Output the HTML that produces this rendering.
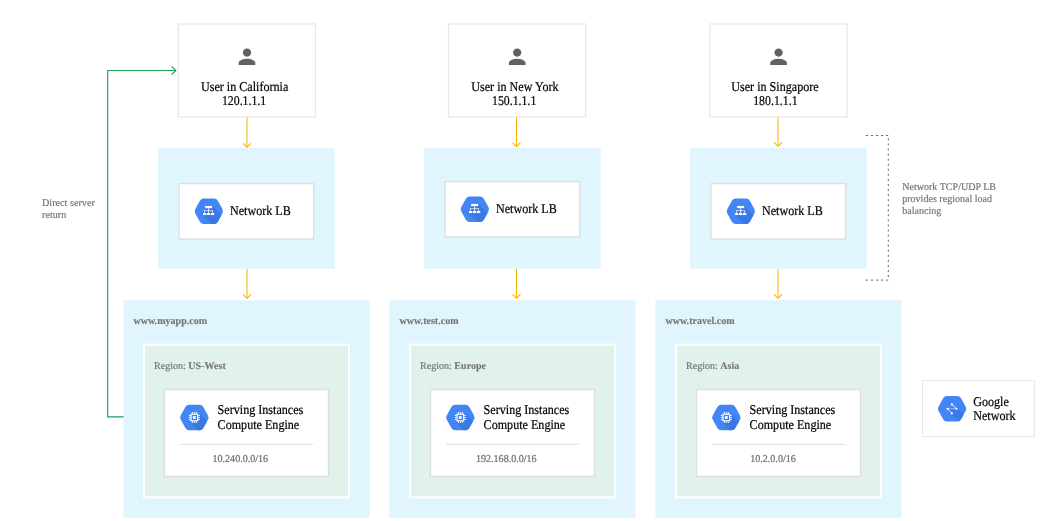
<!DOCTYPE html>
<html lang="en">
<head>
<meta charset="utf-8">
<title>Network Load Balancing</title>
<style>
html,body{margin:0;padding:0;background:#fff;}
body{width:1064px;height:521px;overflow:hidden;}
svg{display:block;will-change:transform;}
</style>
</head>
<body>
<svg width="1064" height="521" viewBox="0 0 1064 521" font-family="'Liberation Serif', 'Times New Roman', serif" text-rendering="geometricPrecision">
<rect x="0" y="0" width="1064" height="521" fill="#fff" />
<rect x="178.3" y="24" width="137.2" height="93" fill="#fff" stroke="#e9e9e9" stroke-width="1.3" />
<path transform="translate(234.52,44.22) scale(1.04)" fill="#616161" d="M12 12c2.21 0 4-1.79 4-4s-1.790-4-4-4-4 1.790-4 4 1.790 4 4 4zm0 2c-2.670 0-8 1.340-8 4v2h16v-2c0-2.660-5.330-4-8-4z"/>
<text transform="translate(201.0,91.0) scale(1.008,1.12)" font-size="12" fill="#000000" stroke="#000000" stroke-width="0.18" text-anchor="start">User in California</text>
<text transform="translate(221.89999999999998,105.0) scale(0.986,1.12)" font-size="12" fill="#000000" stroke="#000000" stroke-width="0.18" text-anchor="start">120.1.1.1</text>
<path d="M247.0 117.5 V147.29999999999998" stroke="#F4B400" stroke-width="1" fill="none"/>
<path d="M243.1 143.29999999999998 L247.0 147.2 L250.9 143.29999999999998" stroke="#F4B400" stroke-width="1.1" fill="none" stroke-linejoin="miter"/>
<rect x="448.5" y="24" width="137.2" height="93" fill="#fff" stroke="#e9e9e9" stroke-width="1.3" />
<path transform="translate(504.72,44.22) scale(1.04)" fill="#616161" d="M12 12c2.21 0 4-1.79 4-4s-1.790-4-4-4-4 1.790-4 4 1.790 4 4 4zm0 2c-2.670 0-8 1.340-8 4v2h16v-2c0-2.660-5.330-4-8-4z"/>
<text transform="translate(471.3,91.0) scale(1.008,1.12)" font-size="12" fill="#000000" stroke="#000000" stroke-width="0.18" text-anchor="start">User in New York</text>
<text transform="translate(492.0,105.0) scale(0.986,1.12)" font-size="12" fill="#000000" stroke="#000000" stroke-width="0.18" text-anchor="start">150.1.1.1</text>
<path d="M516.5 117.5 V146.7" stroke="#F4B400" stroke-width="1" fill="none"/>
<path d="M512.6 142.7 L516.5 146.6 L520.4 142.7" stroke="#F4B400" stroke-width="1.1" fill="none" stroke-linejoin="miter"/>
<rect x="709.9" y="24" width="137.2" height="93" fill="#fff" stroke="#e9e9e9" stroke-width="1.3" />
<path transform="translate(766.12,44.22) scale(1.04)" fill="#616161" d="M12 12c2.21 0 4-1.79 4-4s-1.790-4-4-4-4 1.790-4 4 1.790 4 4 4zm0 2c-2.670 0-8 1.340-8 4v2h16v-2c0-2.660-5.330-4-8-4z"/>
<text transform="translate(731.3,91.0) scale(1.008,1.12)" font-size="12" fill="#000000" stroke="#000000" stroke-width="0.18" text-anchor="start">User in Singapore</text>
<text transform="translate(753.2,105.0) scale(0.986,1.12)" font-size="12" fill="#000000" stroke="#000000" stroke-width="0.18" text-anchor="start">180.1.1.1</text>
<path d="M778.0 117.5 V146.39999999999998" stroke="#F4B400" stroke-width="1" fill="none"/>
<path d="M774.1 142.39999999999998 L778.0 146.29999999999998 L781.9 142.39999999999998" stroke="#F4B400" stroke-width="1.1" fill="none" stroke-linejoin="miter"/>
<rect x="158" y="147.7" width="176.8" height="121.1" fill="#E1F5FE" />
<rect x="179.5" y="184.6" width="134.6" height="55.3" fill="#000" opacity="0.04"/>
<rect x="179.0" y="183.6" width="134.6" height="55.3" fill="#fff" stroke="#dedede" stroke-width="1.3" />
<g>
<clipPath id="hx1"><path d="M195.31 213.42 Q194.05 211.15 195.31 208.88 L199.89 200.67 Q201.15 198.40 203.75 198.40 L213.95 198.40 Q216.55 198.40 217.81 200.67 L222.39 208.88 Q223.65 211.15 222.39 213.42 L217.81 221.63 Q216.55 223.90 213.95 223.90 L203.75 223.90 Q201.15 223.90 199.89 221.63 Z"/></clipPath>
<path d="M195.31 213.42 Q194.05 211.15 195.31 208.88 L199.89 200.67 Q201.15 198.40 203.75 198.40 L213.95 198.40 Q216.55 198.40 217.81 200.67 L222.39 208.88 Q223.65 211.15 222.39 213.42 L217.81 221.63 Q216.55 223.90 213.95 223.90 L203.75 223.90 Q201.15 223.90 199.89 221.63 Z" fill="#4285F4"/>
<g clip-path="url(#hx1)"><g transform="translate(208.85,211.15)">
<path d="M-3.5 -5.2 L3.4 -5.2 L20 11.4 L20 20 L9.6 20 L-5.8 4.2 L-5.8 1.8 L-3.5 -0.5 Z" fill="#3B78E7"/>
</g></g>
<g transform="translate(208.85,211.15)">
<g fill="#fff"><rect x="-3.7" y="-5.2" width="7.0" height="2.2"/><rect x="-0.65" y="-3" width="0.9" height="5.2" opacity="0.9"/><rect x="-4.6" y="-0.9" width="8.8" height="0.8" opacity="0.75"/><rect x="-4.6" y="-0.9" width="0.8" height="3" opacity="0.8"/><rect x="3.4" y="-0.9" width="0.8" height="3" opacity="0.8"/><rect x="-5.8" y="1.9" width="3.3" height="2.0"/><rect x="-1.85" y="1.9" width="3.3" height="2.0"/><rect x="2.1" y="1.9" width="3.3" height="2.0"/></g>
</g>
</g>
<text transform="translate(230,214.9) scale(1.008,1.12)" font-size="12" fill="#000000" stroke="#000000" stroke-width="0.18" text-anchor="start">Network LB</text>
<rect x="424" y="147.7" width="176.8" height="121.1" fill="#E1F5FE" />
<rect x="445.5" y="182.6" width="134.6" height="55.3" fill="#000" opacity="0.04"/>
<rect x="445.0" y="181.6" width="134.6" height="55.3" fill="#fff" stroke="#dedede" stroke-width="1.3" />
<g>
<clipPath id="hx2"><path d="M461.31 211.42 Q460.05 209.15 461.31 206.88 L465.89 198.67 Q467.15 196.40 469.75 196.40 L479.95 196.40 Q482.55 196.40 483.81 198.67 L488.39 206.88 Q489.65 209.15 488.39 211.42 L483.81 219.63 Q482.55 221.90 479.95 221.90 L469.75 221.90 Q467.15 221.90 465.89 219.63 Z"/></clipPath>
<path d="M461.31 211.42 Q460.05 209.15 461.31 206.88 L465.89 198.67 Q467.15 196.40 469.75 196.40 L479.95 196.40 Q482.55 196.40 483.81 198.67 L488.39 206.88 Q489.65 209.15 488.39 211.42 L483.81 219.63 Q482.55 221.90 479.95 221.90 L469.75 221.90 Q467.15 221.90 465.89 219.63 Z" fill="#4285F4"/>
<g clip-path="url(#hx2)"><g transform="translate(474.85,209.15)">
<path d="M-3.5 -5.2 L3.4 -5.2 L20 11.4 L20 20 L9.6 20 L-5.8 4.2 L-5.8 1.8 L-3.5 -0.5 Z" fill="#3B78E7"/>
</g></g>
<g transform="translate(474.85,209.15)">
<g fill="#fff"><rect x="-3.7" y="-5.2" width="7.0" height="2.2"/><rect x="-0.65" y="-3" width="0.9" height="5.2" opacity="0.9"/><rect x="-4.6" y="-0.9" width="8.8" height="0.8" opacity="0.75"/><rect x="-4.6" y="-0.9" width="0.8" height="3" opacity="0.8"/><rect x="3.4" y="-0.9" width="0.8" height="3" opacity="0.8"/><rect x="-5.8" y="1.9" width="3.3" height="2.0"/><rect x="-1.85" y="1.9" width="3.3" height="2.0"/><rect x="2.1" y="1.9" width="3.3" height="2.0"/></g>
</g>
</g>
<text transform="translate(496,212.9) scale(1.008,1.12)" font-size="12" fill="#000000" stroke="#000000" stroke-width="0.18" text-anchor="start">Network LB</text>
<rect x="690" y="147.7" width="176.8" height="121.1" fill="#E1F5FE" />
<rect x="711.5" y="184.6" width="134.6" height="55.3" fill="#000" opacity="0.04"/>
<rect x="711.0" y="183.6" width="134.6" height="55.3" fill="#fff" stroke="#dedede" stroke-width="1.3" />
<g>
<clipPath id="hx3"><path d="M727.31 213.42 Q726.05 211.15 727.31 208.88 L731.89 200.67 Q733.15 198.40 735.75 198.40 L745.95 198.40 Q748.55 198.40 749.81 200.67 L754.39 208.88 Q755.65 211.15 754.39 213.42 L749.81 221.63 Q748.55 223.90 745.95 223.90 L735.75 223.90 Q733.15 223.90 731.89 221.63 Z"/></clipPath>
<path d="M727.31 213.42 Q726.05 211.15 727.31 208.88 L731.89 200.67 Q733.15 198.40 735.75 198.40 L745.95 198.40 Q748.55 198.40 749.81 200.67 L754.39 208.88 Q755.65 211.15 754.39 213.42 L749.81 221.63 Q748.55 223.90 745.95 223.90 L735.75 223.90 Q733.15 223.90 731.89 221.63 Z" fill="#4285F4"/>
<g clip-path="url(#hx3)"><g transform="translate(740.85,211.15)">
<path d="M-3.5 -5.2 L3.4 -5.2 L20 11.4 L20 20 L9.6 20 L-5.8 4.2 L-5.8 1.8 L-3.5 -0.5 Z" fill="#3B78E7"/>
</g></g>
<g transform="translate(740.85,211.15)">
<g fill="#fff"><rect x="-3.7" y="-5.2" width="7.0" height="2.2"/><rect x="-0.65" y="-3" width="0.9" height="5.2" opacity="0.9"/><rect x="-4.6" y="-0.9" width="8.8" height="0.8" opacity="0.75"/><rect x="-4.6" y="-0.9" width="0.8" height="3" opacity="0.8"/><rect x="3.4" y="-0.9" width="0.8" height="3" opacity="0.8"/><rect x="-5.8" y="1.9" width="3.3" height="2.0"/><rect x="-1.85" y="1.9" width="3.3" height="2.0"/><rect x="2.1" y="1.9" width="3.3" height="2.0"/></g>
</g>
</g>
<text transform="translate(762,214.9) scale(1.008,1.12)" font-size="12" fill="#000000" stroke="#000000" stroke-width="0.18" text-anchor="start">Network LB</text>
<path d="M247.0 268.8 V298.4" stroke="#F4B400" stroke-width="1" fill="none"/>
<path d="M243.1 294.4 L247.0 298.3 L250.9 294.4" stroke="#F4B400" stroke-width="1.1" fill="none" stroke-linejoin="miter"/>
<path d="M516.5 268.8 V298.4" stroke="#F4B400" stroke-width="1" fill="none"/>
<path d="M512.6 294.4 L516.5 298.3 L520.4 294.4" stroke="#F4B400" stroke-width="1.1" fill="none" stroke-linejoin="miter"/>
<path d="M778.0 268.8 V298.4" stroke="#F4B400" stroke-width="1" fill="none"/>
<path d="M774.1 294.4 L778.0 298.3 L781.9 294.4" stroke="#F4B400" stroke-width="1.1" fill="none" stroke-linejoin="miter"/>
<rect x="123.4" y="300.2" width="246.2" height="217.5" fill="#E1F5FE" />
<text transform="translate(133.4,324) scale(1.005,1.02)" font-size="10" fill="#757575" stroke="#757575" stroke-width="0.15" text-anchor="start" font-weight="bold">www.myapp.com</text>
<rect x="144" y="344.6" width="205" height="152.7" fill="#E0F2E9" stroke="#fff" stroke-width="2" />
<text transform="translate(154,368.8) scale(1.005,1.02)" font-size="10" fill="#757575"><tspan stroke="#757575" stroke-width="0.18">Region:</tspan> <tspan font-weight="bold" stroke="#757575" stroke-width="0.1">US-West</tspan></text>
<rect x="165.0" y="390.5" width="164" height="86.8" fill="#000" opacity="0.04"/>
<rect x="164.5" y="389.5" width="164" height="86.8" fill="#fff" stroke="#dedede" stroke-width="1.3" />
<g>
<clipPath id="hx4"><path d="M180.81 419.77 Q179.55 417.50 180.81 415.23 L185.39 407.02 Q186.65 404.75 189.25 404.75 L199.45 404.75 Q202.05 404.75 203.31 407.02 L207.89 415.23 Q209.15 417.50 207.89 419.77 L203.31 427.98 Q202.05 430.25 199.45 430.25 L189.25 430.25 Q186.65 430.25 185.39 427.98 Z"/></clipPath>
<path d="M180.81 419.77 Q179.55 417.50 180.81 415.23 L185.39 407.02 Q186.65 404.75 189.25 404.75 L199.45 404.75 Q202.05 404.75 203.31 407.02 L207.89 415.23 Q209.15 417.50 207.89 419.77 L203.31 427.98 Q202.05 430.25 199.45 430.25 L189.25 430.25 Q186.65 430.25 185.39 427.98 Z" fill="#4285F4"/>
<g clip-path="url(#hx4)"><g transform="translate(194.35,417.5)">
<path d="M4.5 -4.5 L20 11 L20 20 L10 20 L-4.5 4.5 Z" fill="#3B78E7"/>
</g></g>
<g transform="translate(194.35,417.5)">
<g fill="none" stroke="#fff"><rect x="-3.3" y="-3.3" width="6.6" height="6.6" stroke-width="1.2"/><path d="M-2 -5.5v1.6M0 -5.5v1.6M2 -5.5v1.6M-2 3.9v1.6M0 3.9v1.6M2 3.9v1.6M-5.5 -2h1.6M-5.5 0h1.6M-5.5 2h1.6M3.9 -2h1.6M3.9 0h1.6M3.9 2h1.6" stroke-width="1"/></g><rect x="-1.4" y="-1.4" width="2.8" height="2.8" fill="#fff"/>
</g>
</g>
<text transform="translate(217.6,413.8) scale(1.008,1.12)" font-size="12" fill="#000000" stroke="#000000" stroke-width="0.18" text-anchor="start">Serving Instances</text>
<text transform="translate(217.6,428.8) scale(1.008,1.12)" font-size="12" fill="#000000" stroke="#000000" stroke-width="0.18" text-anchor="start">Compute Engine</text>
<path d="M180 444.4 H313" stroke="#e0e0e0" stroke-width="1"/>
<text transform="translate(240.3,461.7) scale(1.005,1.06)" font-size="10" fill="#6e6e6e" stroke="#6e6e6e" stroke-width="0.22" text-anchor="middle">10.240.0.0/16</text>
<rect x="389.4" y="300.2" width="246.2" height="217.5" fill="#E1F5FE" />
<text transform="translate(399.4,324) scale(1.005,1.02)" font-size="10" fill="#757575" stroke="#757575" stroke-width="0.15" text-anchor="start" font-weight="bold">www.test.com</text>
<rect x="410" y="344.6" width="205" height="152.7" fill="#E0F2E9" stroke="#fff" stroke-width="2" />
<text transform="translate(420,368.8) scale(1.005,1.02)" font-size="10" fill="#757575"><tspan stroke="#757575" stroke-width="0.18">Region:</tspan> <tspan font-weight="bold" stroke="#757575" stroke-width="0.1">Europe</tspan></text>
<rect x="431.0" y="390.5" width="164" height="86.8" fill="#000" opacity="0.04"/>
<rect x="430.5" y="389.5" width="164" height="86.8" fill="#fff" stroke="#dedede" stroke-width="1.3" />
<g>
<clipPath id="hx5"><path d="M446.81 419.77 Q445.55 417.50 446.81 415.23 L451.39 407.02 Q452.65 404.75 455.25 404.75 L465.45 404.75 Q468.05 404.75 469.31 407.02 L473.89 415.23 Q475.15 417.50 473.89 419.77 L469.31 427.98 Q468.05 430.25 465.45 430.25 L455.25 430.25 Q452.65 430.25 451.39 427.98 Z"/></clipPath>
<path d="M446.81 419.77 Q445.55 417.50 446.81 415.23 L451.39 407.02 Q452.65 404.75 455.25 404.75 L465.45 404.75 Q468.05 404.75 469.31 407.02 L473.89 415.23 Q475.15 417.50 473.89 419.77 L469.31 427.98 Q468.05 430.25 465.45 430.25 L455.25 430.25 Q452.65 430.25 451.39 427.98 Z" fill="#4285F4"/>
<g clip-path="url(#hx5)"><g transform="translate(460.35,417.5)">
<path d="M4.5 -4.5 L20 11 L20 20 L10 20 L-4.5 4.5 Z" fill="#3B78E7"/>
</g></g>
<g transform="translate(460.35,417.5)">
<g fill="none" stroke="#fff"><rect x="-3.3" y="-3.3" width="6.6" height="6.6" stroke-width="1.2"/><path d="M-2 -5.5v1.6M0 -5.5v1.6M2 -5.5v1.6M-2 3.9v1.6M0 3.9v1.6M2 3.9v1.6M-5.5 -2h1.6M-5.5 0h1.6M-5.5 2h1.6M3.9 -2h1.6M3.9 0h1.6M3.9 2h1.6" stroke-width="1"/></g><rect x="-1.4" y="-1.4" width="2.8" height="2.8" fill="#fff"/>
</g>
</g>
<text transform="translate(483.6,413.8) scale(1.008,1.12)" font-size="12" fill="#000000" stroke="#000000" stroke-width="0.18" text-anchor="start">Serving Instances</text>
<text transform="translate(483.6,428.8) scale(1.008,1.12)" font-size="12" fill="#000000" stroke="#000000" stroke-width="0.18" text-anchor="start">Compute Engine</text>
<path d="M446 444.4 H579" stroke="#e0e0e0" stroke-width="1"/>
<text transform="translate(506.3,461.7) scale(1.005,1.06)" font-size="10" fill="#6e6e6e" stroke="#6e6e6e" stroke-width="0.22" text-anchor="middle">192.168.0.0/16</text>
<rect x="655.4" y="300.2" width="246.2" height="217.5" fill="#E1F5FE" />
<text transform="translate(665.4,324) scale(1.005,1.02)" font-size="10" fill="#757575" stroke="#757575" stroke-width="0.15" text-anchor="start" font-weight="bold">www.travel.com</text>
<rect x="676" y="344.6" width="205" height="152.7" fill="#E0F2E9" stroke="#fff" stroke-width="2" />
<text transform="translate(686,368.8) scale(1.005,1.02)" font-size="10" fill="#757575"><tspan stroke="#757575" stroke-width="0.18">Region:</tspan> <tspan font-weight="bold" stroke="#757575" stroke-width="0.1">Asia</tspan></text>
<rect x="697.0" y="390.5" width="164" height="86.8" fill="#000" opacity="0.04"/>
<rect x="696.5" y="389.5" width="164" height="86.8" fill="#fff" stroke="#dedede" stroke-width="1.3" />
<g>
<clipPath id="hx6"><path d="M712.81 419.77 Q711.55 417.50 712.81 415.23 L717.39 407.02 Q718.65 404.75 721.25 404.75 L731.45 404.75 Q734.05 404.75 735.31 407.02 L739.89 415.23 Q741.15 417.50 739.89 419.77 L735.31 427.98 Q734.05 430.25 731.45 430.25 L721.25 430.25 Q718.65 430.25 717.39 427.98 Z"/></clipPath>
<path d="M712.81 419.77 Q711.55 417.50 712.81 415.23 L717.39 407.02 Q718.65 404.75 721.25 404.75 L731.45 404.75 Q734.05 404.75 735.31 407.02 L739.89 415.23 Q741.15 417.50 739.89 419.77 L735.31 427.98 Q734.05 430.25 731.45 430.25 L721.25 430.25 Q718.65 430.25 717.39 427.98 Z" fill="#4285F4"/>
<g clip-path="url(#hx6)"><g transform="translate(726.35,417.5)">
<path d="M4.5 -4.5 L20 11 L20 20 L10 20 L-4.5 4.5 Z" fill="#3B78E7"/>
</g></g>
<g transform="translate(726.35,417.5)">
<g fill="none" stroke="#fff"><rect x="-3.3" y="-3.3" width="6.6" height="6.6" stroke-width="1.2"/><path d="M-2 -5.5v1.6M0 -5.5v1.6M2 -5.5v1.6M-2 3.9v1.6M0 3.9v1.6M2 3.9v1.6M-5.5 -2h1.6M-5.5 0h1.6M-5.5 2h1.6M3.9 -2h1.6M3.9 0h1.6M3.9 2h1.6" stroke-width="1"/></g><rect x="-1.4" y="-1.4" width="2.8" height="2.8" fill="#fff"/>
</g>
</g>
<text transform="translate(749.6,413.8) scale(1.008,1.12)" font-size="12" fill="#000000" stroke="#000000" stroke-width="0.18" text-anchor="start">Serving Instances</text>
<text transform="translate(749.6,428.8) scale(1.008,1.12)" font-size="12" fill="#000000" stroke="#000000" stroke-width="0.18" text-anchor="start">Compute Engine</text>
<path d="M712 444.4 H845" stroke="#e0e0e0" stroke-width="1"/>
<text transform="translate(773.0,461.7) scale(1.005,1.06)" font-size="10" fill="#6e6e6e" stroke="#6e6e6e" stroke-width="0.22" text-anchor="middle">10.2.0.0/16</text>
<path d="M123.6 416.9 H107.7 V70.5 H175.8" stroke="#16A05C" stroke-width="1.1" fill="none"/>
<path d="M171.6 66.3 L175.9 70.5 L171.6 74.7" stroke="#16A05C" stroke-width="1.1" fill="none"/>
<text transform="translate(42,205.8) scale(1.018,1.02)" font-size="10" fill="#757575" stroke="#757575" stroke-width="0.18" text-anchor="start">Direct server</text>
<text transform="translate(42,217.8) scale(1.018,1.02)" font-size="10" fill="#757575" stroke="#757575" stroke-width="0.18" text-anchor="start">return</text>
<g stroke="#666666" stroke-width="1" fill="none"><path d="M865.9 135.5 H888.3" stroke-dasharray="2.1 2.95"/><path d="M888.3 138.4 V278" stroke-dasharray="2 3.0625"/><path d="M865.9 280.1 H888.3" stroke-dasharray="2.1 2.95"/></g>
<text transform="translate(902.2,189.8) scale(1.005,1.02)" font-size="10" fill="#757575" stroke="#757575" stroke-width="0.18" text-anchor="start">Network TCP/UDP LB</text>
<text transform="translate(902.2,201.8) scale(1.005,1.02)" font-size="10" fill="#757575" stroke="#757575" stroke-width="0.18" text-anchor="start">provides regional load</text>
<text transform="translate(902.2,213.8) scale(1.005,1.02)" font-size="10" fill="#757575" stroke="#757575" stroke-width="0.18" text-anchor="start">balancing</text>
<rect x="922.5" y="380.5" width="111.9" height="56" fill="#fff" stroke="#e8e8e8" stroke-width="1" />
<g>
<clipPath id="hx7"><path d="M938.56 410.97 Q937.30 408.70 938.56 406.43 L943.14 398.22 Q944.40 395.95 947.00 395.95 L957.20 395.95 Q959.80 395.95 961.06 398.22 L965.64 406.43 Q966.90 408.70 965.64 410.97 L961.06 419.18 Q959.80 421.45 957.20 421.45 L947.00 421.45 Q944.40 421.45 943.14 419.18 Z"/></clipPath>
<path d="M938.56 410.97 Q937.30 408.70 938.56 406.43 L943.14 398.22 Q944.40 395.95 947.00 395.95 L957.20 395.95 Q959.80 395.95 961.06 398.22 L965.64 406.43 Q966.90 408.70 965.64 410.97 L961.06 419.18 Q959.80 421.45 957.20 421.45 L947.00 421.45 Q944.40 421.45 943.14 419.18 Z" fill="#4285F4"/>
<g clip-path="url(#hx7)"><g transform="translate(952.1,408.7)">
<path d="M-4.5 0.1 L4.4 -0.9 L5.4 -0.7 L25 19 L25 25 L18.8 25 L-5.3 0.9 Z" fill="#3B78E7"/>
</g></g>
<g transform="translate(952.1,408.7)">
<g fill="#fff" stroke="#fff" stroke-width="0.9" stroke-linecap="round"><path d="M-4.5 0.1 L4.4 0.1" fill="none" opacity="0.45" stroke-width="1.1"/><path d="M-0.2 -4.3 L4.4 0.1 M-4.5 0.1 L-0.2 4.6" fill="none"/><circle cx="-0.2" cy="-4.3" r="1.1" stroke="none"/><circle cx="4.4" cy="0.1" r="1.1" stroke="none"/><circle cx="-4.5" cy="0.1" r="1.1" stroke="none"/><circle cx="-0.2" cy="4.6" r="1.1" stroke="none"/></g>
</g>
</g>
<text transform="translate(973.2,405.6) scale(1.008,1.12)" font-size="12" fill="#000000" stroke="#000000" stroke-width="0.18" text-anchor="start">Google</text>
<text transform="translate(973.2,419.7) scale(1.008,1.12)" font-size="12" fill="#000000" stroke="#000000" stroke-width="0.18" text-anchor="start">Network</text>
</svg>
</body>
</html>
